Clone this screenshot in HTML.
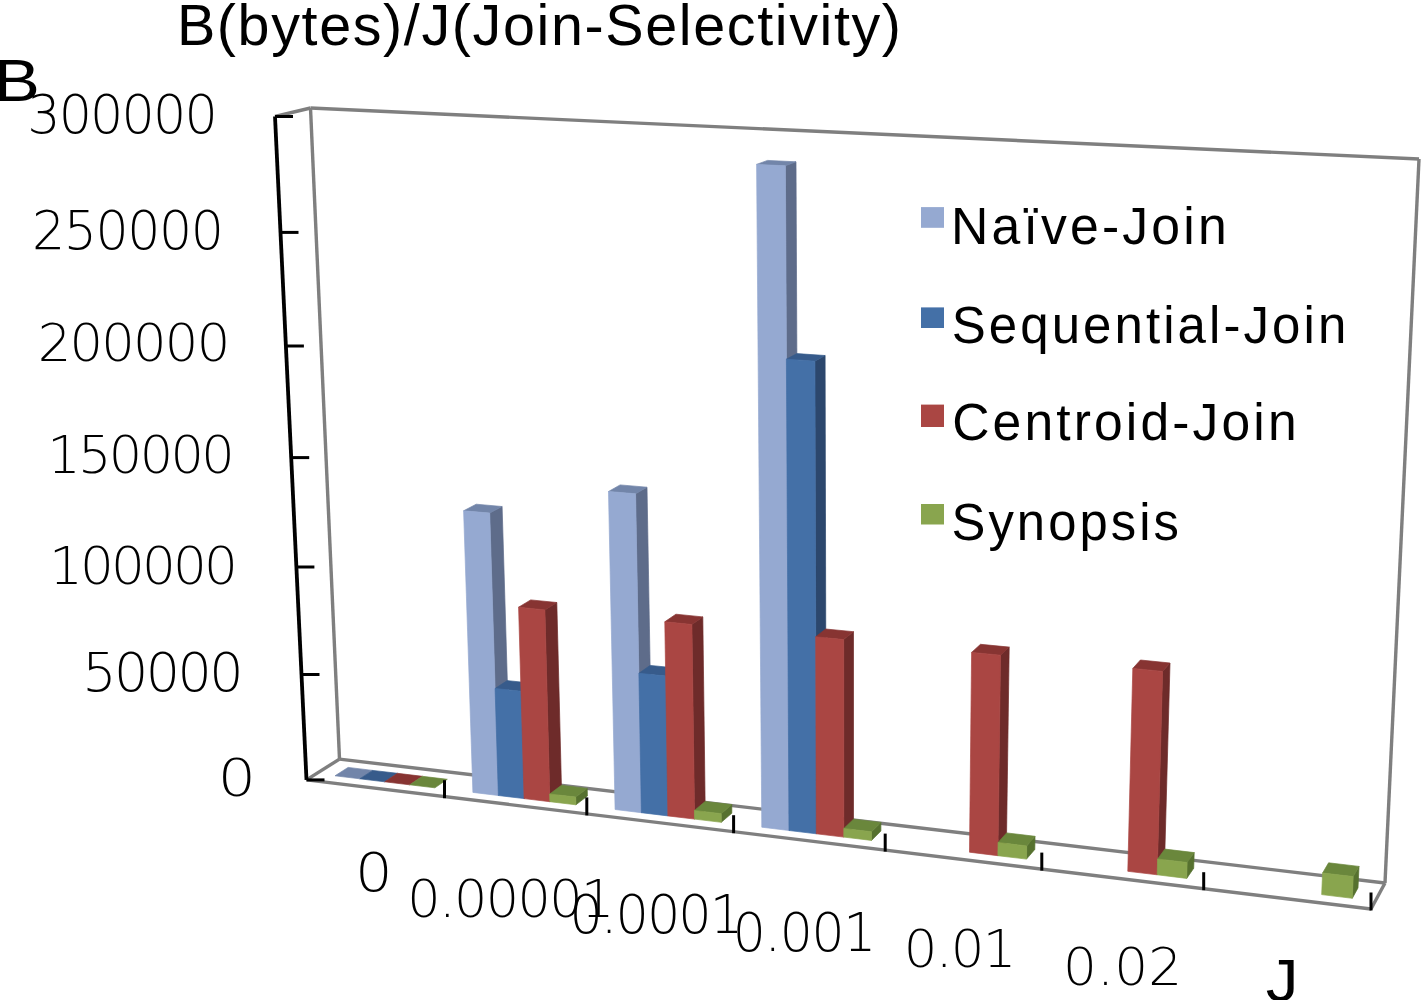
<!DOCTYPE html>
<html><head><meta charset="utf-8"><title>B(bytes)/J(Join-Selectivity)</title>
<style>html,body{margin:0;padding:0;background:#fff;overflow:hidden}svg{display:block}</style></head>
<body><svg width="1425" height="1000" viewBox="0 0 1425 1000">
<rect width="1425" height="1000" fill="#fff"/>
<line x1="275.0" y1="116.5" x2="310.5" y2="108.0" stroke="#7f7f7f" stroke-width="3.4"/>
<line x1="310.5" y1="108.0" x2="1419.0" y2="159.0" stroke="#7f7f7f" stroke-width="3.4"/>
<line x1="1419.0" y1="159.0" x2="1385.0" y2="883.0" stroke="#7f7f7f" stroke-width="3.4"/>
<line x1="310.5" y1="108.0" x2="339.5" y2="759.1" stroke="#7f7f7f" stroke-width="3.4"/>
<line x1="339.5" y1="759.1" x2="1385.0" y2="883.0" stroke="#7f7f7f" stroke-width="3.4"/>
<line x1="306.5" y1="779.9" x2="339.5" y2="759.1" stroke="#7f7f7f" stroke-width="3.4"/>
<polygon points="335.0,775.8 359.8,778.8 372.7,770.4 348.1,767.4" fill="#7285A9" stroke="#7285A9" stroke-width="0.7" stroke-linejoin="round"/>
<polygon points="359.8,778.8 384.7,781.8 397.4,773.3 372.7,770.4" fill="#375B8B" stroke="#375B8B" stroke-width="0.7" stroke-linejoin="round"/>
<polygon points="384.7,781.8 409.7,784.8 422.3,776.3 397.4,773.3" fill="#873432" stroke="#873432" stroke-width="0.7" stroke-linejoin="round"/>
<polygon points="409.7,784.8 434.9,787.8 447.3,779.3 422.3,776.3" fill="#6A873C" stroke="#6A873C" stroke-width="0.7" stroke-linejoin="round"/>
<polygon points="498.4,795.5 510.5,786.8 502.1,506.5 489.7,513.1" fill="#5E6C8A" stroke="#5E6C8A" stroke-width="0.7" stroke-linejoin="round"/>
<polygon points="463.6,510.8 489.7,513.1 502.1,506.5 476.2,504.2" fill="#7285A9" stroke="#7285A9" stroke-width="0.7" stroke-linejoin="round"/>
<polygon points="472.9,792.4 498.4,795.5 489.7,513.1 463.6,510.8" fill="#95A9D1" stroke="#95A9D1" stroke-width="0.7" stroke-linejoin="round"/>
<polygon points="524.1,798.6 536.0,789.8 533.0,683.3 521.0,691.3" fill="#2C476D" stroke="#2C476D" stroke-width="0.7" stroke-linejoin="round"/>
<polygon points="495.1,688.5 521.0,691.3 533.0,683.3 507.3,680.6" fill="#375B8B" stroke="#375B8B" stroke-width="0.7" stroke-linejoin="round"/>
<polygon points="498.4,795.5 524.1,798.6 521.0,691.3 495.1,688.5" fill="#4470A7" stroke="#4470A7" stroke-width="0.7" stroke-linejoin="round"/>
<polygon points="549.9,801.7 561.6,792.9 556.8,602.5 544.9,609.9" fill="#6E2B2A" stroke="#6E2B2A" stroke-width="0.7" stroke-linejoin="round"/>
<polygon points="518.6,607.2 544.9,609.9 556.8,602.5 530.7,599.9" fill="#873432" stroke="#873432" stroke-width="0.7" stroke-linejoin="round"/>
<polygon points="524.1,798.6 549.9,801.7 544.9,609.9 518.6,607.2" fill="#AA4643" stroke="#AA4643" stroke-width="0.7" stroke-linejoin="round"/>
<polygon points="575.9,804.8 587.4,796.0 587.2,788.4 575.7,797.1" fill="#56712F" stroke="#56712F" stroke-width="0.7" stroke-linejoin="round"/>
<polygon points="549.7,794.0 575.7,797.1 587.2,788.4 561.4,785.3" fill="#6A873C" stroke="#6A873C" stroke-width="0.7" stroke-linejoin="round"/>
<polygon points="549.9,801.7 575.9,804.8 575.7,797.1 549.7,794.0" fill="#89A54E" stroke="#89A54E" stroke-width="0.7" stroke-linejoin="round"/>
<polygon points="641.4,812.7 652.5,803.8 647.0,487.2 635.6,493.8" fill="#5E6C8A" stroke="#5E6C8A" stroke-width="0.7" stroke-linejoin="round"/>
<polygon points="608.5,491.5 635.6,493.8 647.0,487.2 620.1,484.9" fill="#7285A9" stroke="#7285A9" stroke-width="0.7" stroke-linejoin="round"/>
<polygon points="615.1,809.5 641.4,812.7 635.6,493.8 608.5,491.5" fill="#95A9D1" stroke="#95A9D1" stroke-width="0.7" stroke-linejoin="round"/>
<polygon points="667.9,815.9 678.8,806.9 676.7,668.1 665.7,676.1" fill="#2C476D" stroke="#2C476D" stroke-width="0.7" stroke-linejoin="round"/>
<polygon points="638.9,673.3 665.7,676.1 676.7,668.1 650.1,665.4" fill="#375B8B" stroke="#375B8B" stroke-width="0.7" stroke-linejoin="round"/>
<polygon points="641.4,812.7 667.9,815.9 665.7,676.1 638.9,673.3" fill="#4470A7" stroke="#4470A7" stroke-width="0.7" stroke-linejoin="round"/>
<polygon points="694.6,819.1 705.2,810.0 702.8,616.9 691.9,624.5" fill="#6E2B2A" stroke="#6E2B2A" stroke-width="0.7" stroke-linejoin="round"/>
<polygon points="664.8,621.8 691.9,624.5 702.8,616.9 675.9,614.2" fill="#873432" stroke="#873432" stroke-width="0.7" stroke-linejoin="round"/>
<polygon points="667.9,815.9 694.6,819.1 691.9,624.5 664.8,621.8" fill="#AA4643" stroke="#AA4643" stroke-width="0.7" stroke-linejoin="round"/>
<polygon points="721.3,822.3 731.8,813.2 731.8,804.6 721.2,813.7" fill="#56712F" stroke="#56712F" stroke-width="0.7" stroke-linejoin="round"/>
<polygon points="694.4,810.5 721.2,813.7 731.8,804.6 705.1,801.5" fill="#6A873C" stroke="#6A873C" stroke-width="0.7" stroke-linejoin="round"/>
<polygon points="694.6,819.1 721.3,822.3 721.2,813.7 694.4,810.5" fill="#89A54E" stroke="#89A54E" stroke-width="0.7" stroke-linejoin="round"/>
<polygon points="789.0,830.5 799.0,821.2 796.0,161.8 785.4,165.8" fill="#5E6C8A" stroke="#5E6C8A" stroke-width="0.7" stroke-linejoin="round"/>
<polygon points="756.6,164.4 785.4,165.8 796.0,161.8 767.5,160.4" fill="#7285A9" stroke="#7285A9" stroke-width="0.7" stroke-linejoin="round"/>
<polygon points="761.8,827.2 789.0,830.5 785.4,165.8 756.6,164.4" fill="#95A9D1" stroke="#95A9D1" stroke-width="0.7" stroke-linejoin="round"/>
<polygon points="816.3,833.8 826.2,824.5 825.1,355.5 814.9,361.2" fill="#2C476D" stroke="#2C476D" stroke-width="0.7" stroke-linejoin="round"/>
<polygon points="786.4,359.2 814.9,361.2 825.1,355.5 796.9,353.6" fill="#375B8B" stroke="#375B8B" stroke-width="0.7" stroke-linejoin="round"/>
<polygon points="789.0,830.5 816.3,833.8 814.9,361.2 786.4,359.2" fill="#4470A7" stroke="#4470A7" stroke-width="0.7" stroke-linejoin="round"/>
<polygon points="843.8,837.1 853.5,827.7 853.5,631.7 843.7,639.6" fill="#6E2B2A" stroke="#6E2B2A" stroke-width="0.7" stroke-linejoin="round"/>
<polygon points="815.7,636.8 843.7,639.6 853.5,631.7 825.7,629.0" fill="#873432" stroke="#873432" stroke-width="0.7" stroke-linejoin="round"/>
<polygon points="816.3,833.8 843.8,837.1 843.7,639.6 815.7,636.8" fill="#AA4643" stroke="#AA4643" stroke-width="0.7" stroke-linejoin="round"/>
<polygon points="871.5,840.4 880.9,831.0 880.9,822.4 871.5,831.8" fill="#56712F" stroke="#56712F" stroke-width="0.7" stroke-linejoin="round"/>
<polygon points="843.8,828.5 871.5,831.8 880.9,822.4 853.5,819.2" fill="#6A873C" stroke="#6A873C" stroke-width="0.7" stroke-linejoin="round"/>
<polygon points="843.8,837.1 871.5,840.4 871.5,831.8 843.8,828.5" fill="#89A54E" stroke="#89A54E" stroke-width="0.7" stroke-linejoin="round"/>
<polygon points="997.9,855.7 1006.4,846.0 1009.2,647.1 1000.5,655.2" fill="#6E2B2A" stroke="#6E2B2A" stroke-width="0.7" stroke-linejoin="round"/>
<polygon points="971.6,652.4 1000.5,655.2 1009.2,647.1 980.5,644.3" fill="#873432" stroke="#873432" stroke-width="0.7" stroke-linejoin="round"/>
<polygon points="969.5,852.2 997.9,855.7 1000.5,655.2 971.6,652.4" fill="#AA4643" stroke="#AA4643" stroke-width="0.7" stroke-linejoin="round"/>
<polygon points="1026.5,859.1 1034.8,849.4 1035.0,836.3 1026.7,845.9" fill="#56712F" stroke="#56712F" stroke-width="0.7" stroke-linejoin="round"/>
<polygon points="998.1,842.5 1026.7,845.9 1035.0,836.3 1006.6,832.9" fill="#6A873C" stroke="#6A873C" stroke-width="0.7" stroke-linejoin="round"/>
<polygon points="997.9,855.7 1026.5,859.1 1026.7,845.9 998.1,842.5" fill="#89A54E" stroke="#89A54E" stroke-width="0.7" stroke-linejoin="round"/>
<polygon points="1157.2,874.8 1164.5,864.8 1170.0,663.0 1162.6,671.4" fill="#6E2B2A" stroke="#6E2B2A" stroke-width="0.7" stroke-linejoin="round"/>
<polygon points="1132.8,668.4 1162.6,671.4 1170.0,663.0 1140.4,660.0" fill="#873432" stroke="#873432" stroke-width="0.7" stroke-linejoin="round"/>
<polygon points="1127.8,871.3 1157.2,874.8 1162.6,671.4 1132.8,668.4" fill="#AA4643" stroke="#AA4643" stroke-width="0.7" stroke-linejoin="round"/>
<polygon points="1186.7,878.4 1193.7,868.3 1194.2,852.6 1187.1,862.5" fill="#56712F" stroke="#56712F" stroke-width="0.7" stroke-linejoin="round"/>
<polygon points="1157.6,859.0 1187.1,862.5 1194.2,852.6 1164.9,849.1" fill="#6A873C" stroke="#6A873C" stroke-width="0.7" stroke-linejoin="round"/>
<polygon points="1157.2,874.8 1186.7,878.4 1187.1,862.5 1157.6,859.0" fill="#89A54E" stroke="#89A54E" stroke-width="0.7" stroke-linejoin="round"/>
<polygon points="1352.3,898.3 1358.0,887.9 1359.0,866.4 1353.2,876.6" fill="#56712F" stroke="#56712F" stroke-width="0.7" stroke-linejoin="round"/>
<polygon points="1322.6,873.0 1353.2,876.6 1359.0,866.4 1328.6,862.8" fill="#6A873C" stroke="#6A873C" stroke-width="0.7" stroke-linejoin="round"/>
<polygon points="1321.7,894.6 1352.3,898.3 1353.2,876.6 1322.6,873.0" fill="#89A54E" stroke="#89A54E" stroke-width="0.7" stroke-linejoin="round"/>
<line x1="306.5" y1="779.9" x2="1371.0" y2="909.0" stroke="#7f7f7f" stroke-width="3.4"/>
<line x1="1371.0" y1="909.0" x2="1385.0" y2="883.0" stroke="#7f7f7f" stroke-width="3.4"/>
<line x1="275.0" y1="116.5" x2="306.5" y2="779.9" stroke="#000" stroke-width="3.8"/>
<line x1="306.5" y1="779.9" x2="324.5" y2="779.9" stroke="#000" stroke-width="3"/>
<line x1="301.5" y1="674.5" x2="319.5" y2="674.5" stroke="#000" stroke-width="3"/>
<line x1="296.4" y1="567.0" x2="314.4" y2="567.0" stroke="#000" stroke-width="3"/>
<line x1="291.2" y1="457.6" x2="309.2" y2="457.6" stroke="#000" stroke-width="3"/>
<line x1="285.9" y1="346.0" x2="303.9" y2="346.0" stroke="#000" stroke-width="3"/>
<line x1="280.5" y1="232.4" x2="298.5" y2="232.4" stroke="#000" stroke-width="3"/>
<line x1="275.0" y1="116.5" x2="293.0" y2="116.5" stroke="#000" stroke-width="3"/>
<line x1="444.5" y1="798.2" x2="444.5" y2="780.2" stroke="#000" stroke-width="3"/>
<line x1="586.8" y1="815.4" x2="586.8" y2="797.4" stroke="#000" stroke-width="3"/>
<line x1="733.6" y1="833.2" x2="733.6" y2="815.2" stroke="#000" stroke-width="3"/>
<line x1="885.2" y1="851.6" x2="885.2" y2="833.6" stroke="#000" stroke-width="3"/>
<line x1="1041.8" y1="870.6" x2="1041.8" y2="852.6" stroke="#000" stroke-width="3"/>
<line x1="1203.7" y1="890.2" x2="1203.7" y2="872.2" stroke="#000" stroke-width="3"/>
<line x1="1371.0" y1="910.5" x2="1371.0" y2="892.5" stroke="#000" stroke-width="3"/>
<rect x="921" y="207.1" width="23.0" height="20.7" fill="#95A9D1"/>
<rect x="921" y="307.4" width="23.0" height="20.6" fill="#4470A7"/>
<rect x="921" y="404.6" width="23.0" height="22.4" fill="#AA4643"/>
<rect x="921" y="504" width="23.0" height="20.5" fill="#89A54E"/>
<g fill="#000">
<text transform="translate(176.90 44.60) scale(1.0001 0.9925)" font-family="&quot;Liberation Sans&quot;, sans-serif" font-weight="400" font-size="57.46" letter-spacing="1.633">B(bytes)/J(Join-Selectivity)</text>
<text transform="translate(-6.03 101.40) scale(1.2067 1.0250)" font-family="&quot;Liberation Sans&quot;, sans-serif" font-weight="400" font-size="57">B</text>
<text transform="translate(27.20 133.40) scale(0.9989 1.0211)" font-family="&quot;DejaVu Sans&quot;, sans-serif" font-weight="200" font-size="52.38" letter-spacing="-1.840">300000</text>
<text transform="translate(32.00 249.30) scale(1.0000 1.0158)" font-family="&quot;DejaVu Sans&quot;, sans-serif" font-weight="200" font-size="52.11" letter-spacing="-1.400">250000</text>
<text transform="translate(37.69 360.72) scale(1.0016 0.9750)" font-family="&quot;DejaVu Sans&quot;, sans-serif" font-weight="200" font-size="52.65" letter-spacing="-1.740">200000</text>
<text transform="translate(47.31 473.02) scale(0.9983 0.9750)" font-family="&quot;DejaVu Sans&quot;, sans-serif" font-weight="200" font-size="52.65" letter-spacing="-2.660">150000</text>
<text transform="translate(48.98 584.02) scale(1.0040 0.9825)" font-family="&quot;DejaVu Sans&quot;, sans-serif" font-weight="200" font-size="53.05" letter-spacing="-2.860">100000</text>
<text transform="translate(82.31 691.30) scale(0.9980 1.0000)" font-family="&quot;DejaVu Sans&quot;, sans-serif" font-weight="200" font-size="54.0" letter-spacing="-2.575">50000</text>
<text transform="translate(217.74 795.74) scale(1.1125 0.9600)" font-family="&quot;DejaVu Sans&quot;, sans-serif" font-weight="200" font-size="54">0</text>
<text transform="translate(355.02 890.81) scale(1.0958 0.9875)" font-family="&quot;DejaVu Sans&quot;, sans-serif" font-weight="200" font-size="54">0</text>
<text transform="translate(407.31 916.53) scale(0.9975 0.9725)" font-family="&quot;DejaVu Sans&quot;, sans-serif" font-weight="200" font-size="52.51" letter-spacing="-1.583">0.00001</text>
<text transform="translate(569.39 933.20) scale(1.0012 1.0211)" font-family="&quot;DejaVu Sans&quot;, sans-serif" font-weight="200" font-size="52.38" letter-spacing="-1.960">0.0001</text>
<text transform="translate(732.81 951.40) scale(0.9977 1.0158)" font-family="&quot;DejaVu Sans&quot;, sans-serif" font-weight="200" font-size="52.11" letter-spacing="-1.325">0.001</text>
<text transform="translate(903.70 966.92) scale(1.0000 0.9800)" font-family="&quot;DejaVu Sans&quot;, sans-serif" font-weight="200" font-size="52.92" letter-spacing="-1.667">0.01</text>
<text transform="translate(1062.97 985.02) scale(1.0065 0.9800)" font-family="&quot;DejaVu Sans&quot;, sans-serif" font-weight="200" font-size="52.92" letter-spacing="0.233">0.02</text>
<text transform="translate(1265.81 1000.50) scale(1.1909 1.0632)" font-family="&quot;Liberation Sans&quot;, sans-serif" font-weight="400" font-size="55">J</text>
<text transform="translate(951.00 243.60) scale(1.0011 1.0139)" font-family="&quot;Liberation Sans&quot;, sans-serif" font-weight="400" font-size="51.71" letter-spacing="3.144">Naïve-Join</text>
<text transform="translate(951.70 342.80) scale(1.0000 1.0000)" font-family="&quot;Liberation Sans&quot;, sans-serif" font-weight="400" font-size="51.0" letter-spacing="3.071">Sequential-Join</text>
<text transform="translate(952.20 440.40) scale(0.9985 1.0139)" font-family="&quot;Liberation Sans&quot;, sans-serif" font-weight="400" font-size="51.71" letter-spacing="3.125">Centroid-Join</text>
<text transform="translate(951.50 540.10) scale(1.0014 1.0229)" font-family="&quot;Liberation Sans&quot;, sans-serif" font-weight="400" font-size="50.72" letter-spacing="3.043">Synopsis</text>
</g>
</svg></body></html>
